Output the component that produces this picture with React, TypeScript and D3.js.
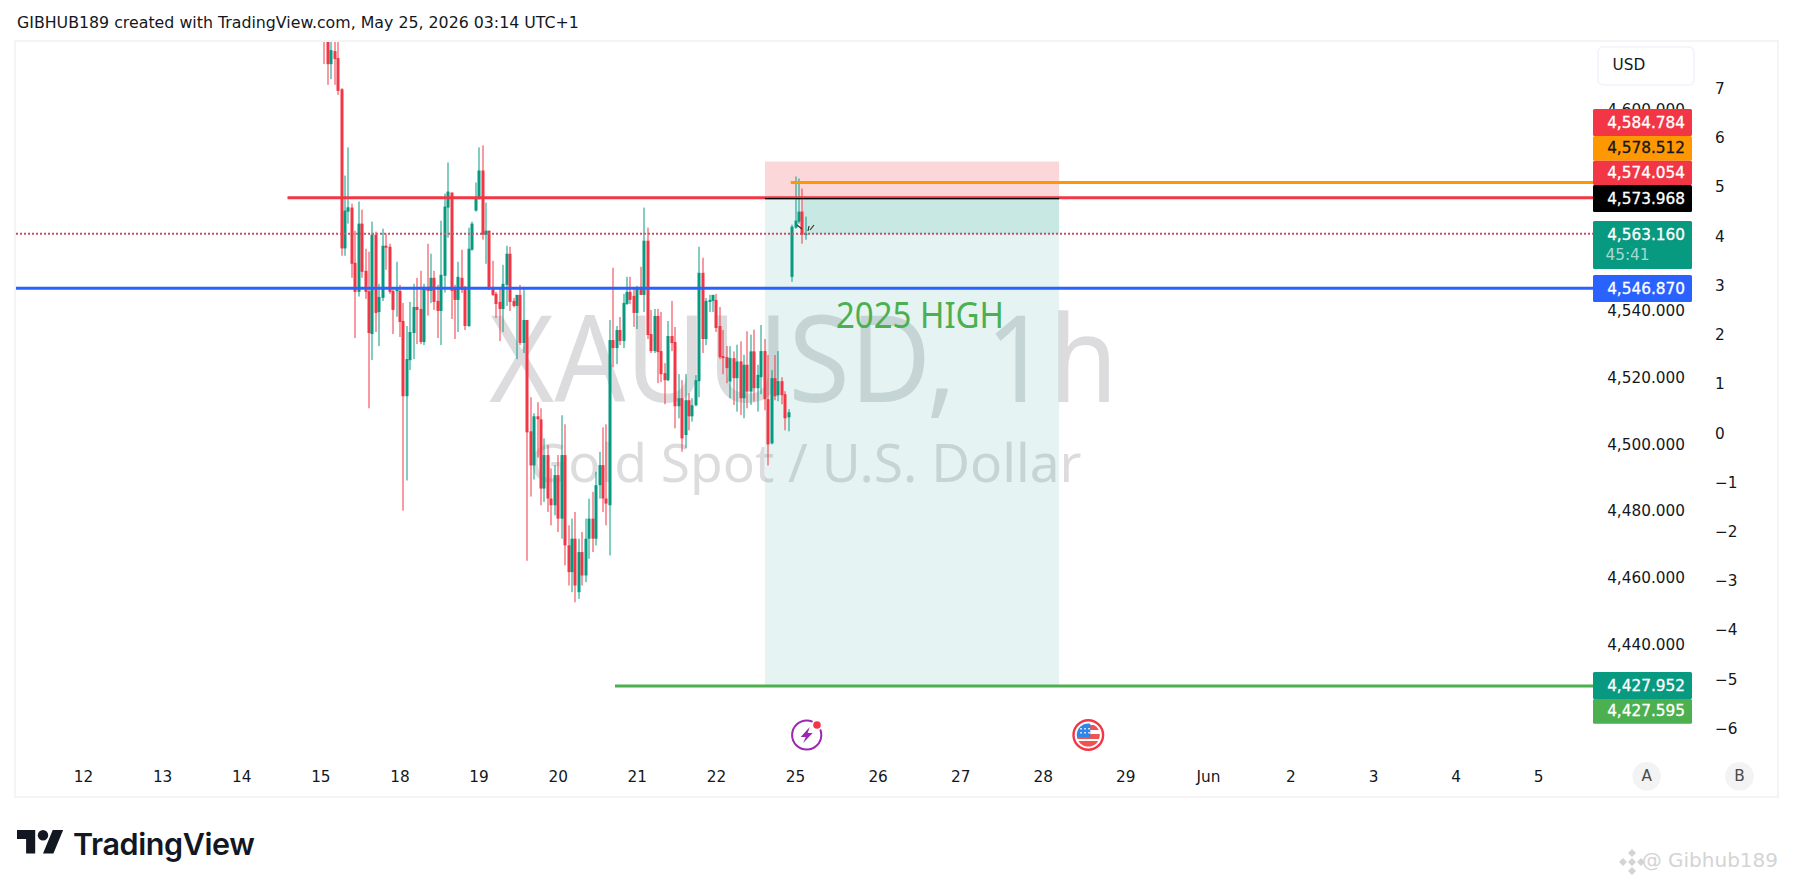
import * as d3 from "d3";

const WIDTH = 1793;
const HEIGHT = 887;
const FONT = "'DejaVu Sans', sans-serif";
const UP = "#089981";
const DOWN = "#F23645";
const INK = "#131722";

// hourly candles, bar 0 is on the 15th
const barOpen = [
  4628.4, 4623.4, 4613.9, 4617.8, 4615.7, 4606.4, 4558.8, 4569.8, 4571, 4554.5,
  4545.8, 4566.2, 4552.1, 4546, 4533.2, 4562.9, 4539.8, 4544, 4559.6, 4559.3,
  4546.1, 4546, 4546.1, 4537.1, 4514.6, 4525.4, 4533.5, 4541.3, 4540.7, 4530.8,
  4547.3, 4546.1, 4550, 4543.1, 4540.1, 4550.6, 4571, 4575.5, 4546.7, 4543.4,
  4550, 4547, 4535.6, 4558.4, 4570.1, 4573.7, 4582.1, 4562.9, 4564.1, 4547.3,
  4545.2, 4542.8, 4540.7, 4547.9, 4557.2, 4543.1, 4541.6, 4544.9, 4530.5, 4537.4,
  4504.1, 4493.9, 4508.6, 4507.7, 4487, 4497, 4484, 4482, 4491, 4478,
  4497, 4470, 4462, 4472, 4456, 4468, 4461, 4472, 4478, 4472,
  4488, 4494, 4484, 4482, 4531.4, 4529, 4534.4, 4531.1, 4542.2, 4545.8,
  4544.6, 4539.5, 4547.3, 4544.9, 4561.1, 4533.2, 4528.1, 4538.6, 4528.1, 4521.5,
  4519.4, 4532.6, 4530.8, 4511.6, 4514, 4503, 4513.4, 4508.6, 4511.9, 4519.1,
  4551.5, 4531.7, 4542.8, 4543.1, 4543.4, 4535.6, 4526.6, 4526.3, 4519, 4526,
  4520, 4525, 4514, 4524, 4516, 4528, 4517, 4520.3, 4528.1, 4513.7,
  4500.5, 4520, 4514.9, 4519.1, 4515.2, 4508.3, 4550.3, 4565, 4566.8, 4569.8,
  4562.9,
];
const barHigh = [
  4630.4, 4625, 4626, 4626, 4625, 4606.7, 4580.6, 4589, 4572.2, 4564.1,
  4572.8, 4570.4, 4558.7, 4557.8, 4566.8, 4563.8, 4548.2, 4564.7, 4563.2, 4560.2,
  4546.4, 4554.8, 4547.9, 4542.5, 4535.6, 4542.8, 4548.2, 4550, 4552.1, 4548.2,
  4560.2, 4557.2, 4552.1, 4547.9, 4567.1, 4575.2, 4584.5, 4575.5, 4547.9, 4554.8,
  4558.4, 4547.6, 4565, 4566.8, 4578.5, 4589, 4589.6, 4572.5, 4564.1, 4555.1,
  4545.8, 4546.7, 4553.9, 4559.6, 4559.3, 4544, 4544.9, 4547.9, 4547.3, 4537.4,
  4514.3, 4509.5, 4512.8, 4511, 4502, 4500, 4493, 4494, 4497, 4508.9,
  4506.2, 4476, 4478, 4480, 4472, 4474, 4478, 4484, 4486, 4492,
  4498, 4505.3, 4506.2, 4537.4, 4553, 4535.6, 4538.3, 4545.2, 4550.3, 4550.3,
  4547, 4547.6, 4553.3, 4571, 4565, 4540.4, 4540.7, 4540.7, 4539.8, 4524.5,
  4537.1, 4543.1, 4535.3, 4521.2, 4519.4, 4521.2, 4515.5, 4514, 4520.9, 4559.3,
  4556, 4544, 4544.9, 4544.9, 4545.2, 4541.3, 4534.4, 4529.6, 4529.6, 4528,
  4530, 4531, 4527, 4534, 4533, 4534.5, 4524, 4535.9, 4531.7, 4526.9,
  4522.4, 4526.9, 4528.1, 4520.3, 4516.1, 4510.7, 4565.9, 4580.3, 4579.7, 4576.7,
  4568.3,
];
const barLow = [
  4613.9, 4607.7, 4609.4, 4607.7, 4604.7, 4556.6, 4556.6, 4566.2, 4550, 4532,
  4544.4, 4550, 4543.7, 4511, 4525.4, 4533.8, 4529.6, 4543.1, 4552.4, 4545.2,
  4533.2, 4538.4, 4532.3, 4480.4, 4489.4, 4522.4, 4525.7, 4530.2, 4530.2, 4529.9,
  4538.7, 4542.5, 4540.4, 4532, 4529.9, 4545.6, 4562, 4537.7, 4531.7, 4533.8,
  4545.5, 4534.4, 4535.3, 4558.1, 4569.8, 4573.4, 4561.4, 4554.2, 4546.4, 4544.6,
  4538, 4531.1, 4533.8, 4541.6, 4540.1, 4541.2, 4525.7, 4529.9, 4527.5, 4465.4,
  4484.6, 4489.7, 4496.3, 4482, 4483, 4480, 4476, 4479, 4474, 4472,
  4464, 4458, 4456, 4453, 4454, 4458, 4459, 4466, 4468, 4470,
  4484, 4480, 4476, 4467, 4523.3, 4524.2, 4529.9, 4529, 4541.9, 4542.2,
  4535.3, 4534.7, 4544.9, 4539.8, 4531.7, 4527.5, 4527.5, 4518.5, 4518.8, 4512.2,
  4519.1, 4528.1, 4505, 4508, 4498, 4499, 4504.4, 4507, 4511.6, 4514.3,
  4527.5, 4529.9, 4539.8, 4539.8, 4533.8, 4525.7, 4521.2, 4518.5, 4514, 4512,
  4510, 4509, 4508, 4511, 4512, 4513, 4510, 4515.2, 4510.4, 4493.9,
  4500.2, 4513.4, 4513.1, 4512.2, 4504.4, 4504.1, 4548.8, 4564.7, 4566.2, 4560.2,
  4561.4,
];
const barClose = [
  4623.4, 4613.9, 4618.1, 4615.4, 4605.9, 4558.8, 4570.1, 4571.1, 4554.2, 4545.8,
  4566.2, 4551.8, 4545.8, 4533.5, 4562.9, 4539.5, 4544.3, 4559.6, 4559, 4545.8,
  4540.4, 4546.6, 4536.8, 4514.6, 4525.7, 4533.8, 4541.3, 4540.4, 4530.8, 4547.3,
  4546.1, 4550, 4542.8, 4540.1, 4550.9, 4571.3, 4575.8, 4546.1, 4543.4, 4550.3,
  4546.4, 4535.6, 4558.7, 4566.2, 4574, 4582.1, 4562.9, 4564.1, 4547, 4544.9,
  4542.2, 4540.7, 4548.2, 4557.2, 4542.8, 4541.6, 4544.9, 4530.5, 4537.4, 4503.8,
  4493.9, 4508.6, 4507.7, 4487, 4497, 4484, 4482, 4491, 4478, 4497,
  4470, 4462, 4472, 4458, 4468, 4461, 4472, 4478, 4472, 4488,
  4494, 4484, 4482.5, 4531.4, 4529, 4534.4, 4531.1, 4542.5, 4545.8, 4543.4,
  4539.5, 4547, 4544.9, 4561.1, 4532.9, 4528.1, 4538.6, 4527.8, 4521.2, 4519.4,
  4532.6, 4530.5, 4511.6, 4514, 4502, 4513.4, 4508.6, 4511.9, 4519.4, 4551.5,
  4531.7, 4543.1, 4543.4, 4544.9, 4535, 4526.3, 4526, 4523, 4526, 4520,
  4525, 4514, 4524, 4516, 4528, 4517, 4521, 4528.1, 4513.7, 4500.2,
  4520, 4514.6, 4519.1, 4514.9, 4508, 4509.8, 4565.3, 4567.1, 4569.8, 4562.9,
  4563.16,
];

const priceTicks = [4600, 4540, 4520, 4500, 4480, 4460, 4440];
const percentTicks = [7, 6, 5, 4, 3, 2, 1, 0, -1, -2, -3, -4, -5, -6];
const dayLabels = ["12", "13", "14", "15", "18", "19", "20", "21", "22", "25", "26", "27", "28", "29", "Jun", "2", "3", "4", "5"];
const dayBars = [-70, -47, -24, -1, 22, 45, 68, 91, 114, 137, 161, 185, 209, 233, 257, 281, 305, 329, 353];

const LAST_PRICE = 4563.16;
const RESISTANCE = 4573.968;
const ORANGE_LEVEL = 4578.512;
const BLUE_LEVEL = 4546.87;
const TARGET = 4427.952;
const STOP = 4584.784;

const priceLabels = ["4,584.784", "4,578.512", "4,574.054", "4,573.968", "4,563.160", "4,546.870", "4,427.952", "4,427.595"];
const labelFills = [DOWN, "#FF9800", DOWN, "#000000", UP, "#2962FF", UP, "#4CAF50"];
const labelInk = ["#fff", "#131722", "#fff", "#fff", "#fff", "#fff", "#fff", "#fff"];
const labelTops = [109, 136, 160.7, 185, 221, 275, 672, 699];
const labelBottoms = [136, 160.7, 185, 212, 269, 302, 699, 723.7];

const x = d3.scaleLinear().domain([0, 100]).range([324.3, 668.3]);
const y = d3.scaleLinear().domain([4427.952, 4546.87]).range([686, 288.3]);
const yPercent = d3.scaleLinear().domain([0, 7]).range([433.5, 89]);

const PLOT_RIGHT = 1593;
const bars = d3.range(barOpen.length);

const labelProps = { fontFamily: FONT, fontSize: 15.3, fill: INK, dominantBaseline: "central" as const };

const Candles = () => (
  <g clipPath="url(#plot)">
    {bars.map(i => {
      const up = barClose[i] >= barOpen[i];
      const color = up ? UP : DOWN;
      const top = y(Math.max(barOpen[i], barClose[i]));
      const bottom = y(Math.min(barOpen[i], barClose[i]));
      const cx = Math.round(x(i));
      return (
        <g key={i} fill={color}>
          <rect x={cx - 0.5} y={y(barHigh[i])} width={1} height={y(barLow[i]) - y(barHigh[i])} />
          <rect x={cx - 1.5} y={top} width={3} height={Math.max(bottom - top, 1)} />
        </g>
      );
    })}
  </g>
);

const PositionTool = () => {
  const left = x(128.1);
  const right = x(213.6);
  const entry = y(RESISTANCE);
  const current = y(LAST_PRICE);
  return (
    <g>
      <rect x={left} y={y(STOP)} width={right - left} height={entry - y(STOP)} fill={DOWN} fillOpacity={0.2} />
      <rect x={left} y={entry} width={right - left} height={y(TARGET) - entry} fill={UP} fillOpacity={0.105} />
      <rect x={x(139.1)} y={entry} width={right - x(139.1)} height={current - entry} fill={UP} fillOpacity={0.13} />
    </g>
  );
};

const Levels = () => (
  <g>
    <line x1={x(-10.7)} x2={PLOT_RIGHT} y1={y(RESISTANCE)} y2={y(RESISTANCE)} stroke={DOWN} strokeWidth={3} />
    <line x1={x(128.1)} x2={x(213.6)} y1={y(RESISTANCE) + 1} y2={y(RESISTANCE) + 1} stroke="#000" strokeWidth={1.2} />
    <line x1={x(135.6)} x2={PLOT_RIGHT} y1={y(ORANGE_LEVEL)} y2={y(ORANGE_LEVEL)} stroke="#FF9800" strokeWidth={3} />
    <line x1={16} x2={PLOT_RIGHT} y1={y(BLUE_LEVEL)} y2={y(BLUE_LEVEL)} stroke="#2962FF" strokeWidth={3} />
    <line x1={x(84.5)} x2={PLOT_RIGHT} y1={y(TARGET)} y2={y(TARGET)} stroke="#4CAF50" strokeWidth={3} />
    <line x1={16} x2={PLOT_RIGHT} y1={y(LAST_PRICE)} y2={y(LAST_PRICE)} stroke="#c2556a" strokeWidth={2} strokeDasharray="1 3" />
    <line x1={17} x2={PLOT_RIGHT} y1={y(LAST_PRICE)} y2={y(LAST_PRICE)} stroke="#3f78d8" strokeWidth={2} strokeDasharray="1 3" />
  </g>
);

const RightScale = () => (
  <g>
    <rect x={1598} y={47} width={96} height={38} rx={5} fill="#fff" stroke="#f0f3fa" strokeWidth={1.5} />
    <text {...labelProps} x={1612.5} y={65}>USD</text>
    {priceTicks.map(p => (
      <text key={p} {...labelProps} x={1685} y={y(p) - 0.5} textAnchor="end">{d3.format(",.3f")(p)}</text>
    ))}
    {percentTicks.map(v => (
      <text key={v} {...labelProps} x={1715} y={yPercent(v)}>{v < 0 ? `\u2212${-v}` : v}</text>
    ))}
    {priceLabels.map((t, i) => {
      const top = labelTops[i];
      const h = labelBottoms[i] - top;
      return (
        <g key={t}>
          <rect x={1593} y={top} width={99} height={h} fill={labelFills[i]} rx={1.5} />
          <text {...labelProps} x={1685} y={i === 4 ? top + 14 : top + h / 2} textAnchor="end" fill={labelInk[i]} stroke={labelInk[i]} strokeWidth={0.3}>{t}</text>
        </g>
      );
    })}
    <text {...labelProps} x={1605.5} y={254.5} fill="#fff" fillOpacity={0.65}>45:41</text>
  </g>
);

const TimeAxis = () => (
  <g>
    {dayLabels.map((d, i) => (
      <text key={d + i} {...labelProps} x={x(dayBars[i])} y={776.5} textAnchor="middle">{d}</text>
    ))}
    {["A", "B"].map((t, i) => (
      <g key={t}>
        <circle cx={i === 0 ? 1646.7 : 1739.5} cy={776.3} r={14.3} fill="#f3f3f3" />
        <text {...labelProps} x={i === 0 ? 1646.7 : 1739.5} y={776.3} textAnchor="middle" fill="#4a4a4a">{t}</text>
      </g>
    ))}
  </g>
);

const EventIcons = () => (
  <g>
    <g transform="translate(806.7 735)">
      <circle r={14.6} fill="none" stroke="#9C27B0" strokeWidth={2} />
      <path d="M3 -8 L-6 2 L-1 2 L-3.5 8 L6 -2 L1 -2 Z" fill="#9C27B0" />
      <circle cx={10.3} cy={-10} r={5.5} fill="#fff" />
      <circle cx={10.3} cy={-10} r={3.8} fill={DOWN} />
    </g>
    <g transform="translate(1088.3 735)">
      <circle r={14.8} fill="#fff" stroke={DOWN} strokeWidth={2.4} />
      <clipPath id="flag"><circle r={11.5} /></clipPath>
      <g clipPath="url(#flag)">
        <rect x={-12} y={-1} width={24} height={5} fill="#EF5350" />
        <rect x={-12} y={6} width={24} height={6} fill="#EF5350" />
        <rect x={0} y={-10} width={12} height={5} fill="#EF5350" />
        <rect x={-12} y={-12} width={14} height={14} fill="#2E86E8" />
      </g>
      <path d="M-8 -7h1.5v1.5h-1.5zM-4 -7h1.5v1.5h-1.5zM-8 -3h1.5v1.5h-1.5zM-4 -3h1.5v1.5h-1.5zM0 -7h1.5v1.5h-1.5zM0 -3h1.5v1.5h-1.5z" fill="#fff" />
    </g>
  </g>
);

const App = () => (
  <svg width={WIDTH} height={HEIGHT} style={{ position: "absolute", left: 0, top: 0, background: "#fff" }}>
    <defs>
      <clipPath id="plot"><rect x={16} y={42} width={PLOT_RIGHT - 16} height={754} /></clipPath>
    </defs>
    <text x={17} y={22} fontFamily={FONT} fontSize={15.8} fill={INK} dominantBaseline="central">
      GIBHUB189 created with TradingView.com, May 25, 2026 03:14 UTC+1
    </text>
    <rect x={15} y={41} width={1763} height={756} fill="none" stroke="#f4f4f4" strokeWidth={2} />

    <text x={803.5} y={401.7} textAnchor="middle" fontFamily="'Noto Sans', sans-serif" fontSize={120} fill={INK} fillOpacity={0.15} textLength={629} lengthAdjust="spacingAndGlyphs">XAUUSD, 1h</text>
    <text x={805.6} y={482} textAnchor="middle" fontFamily="'Noto Sans', sans-serif" fontSize={53} fill={INK} fillOpacity={0.15} textLength={552} lengthAdjust="spacingAndGlyphs">Gold Spot / U.S. Dollar</text>

    <PositionTool />
    <Candles />
    <Levels />
    <path d="M797 225 l5 4 M814 225 l-4 5 M809 226 l-1 5" stroke="#333" strokeWidth={1.2} fill="none" />
    <text x={920} y={327.7} textAnchor="middle" fontFamily="'Noto Sans', sans-serif" fontSize={36} fill="#4CAF50" textLength={168} lengthAdjust="spacingAndGlyphs">2025 HIGH</text>

    <EventIcons />
    <RightScale />
    <TimeAxis />

    <g transform="translate(17 830) scale(1.3)" fill={INK}>
      <path d="M14 18H7V7H0V0h14v18zM28 18h-8l7.5-18h8L28 18z" />
      <circle cx={20} cy={4} r={4} />
    </g>
    <text x={73} y={843} fontFamily="Inter, sans-serif" fontWeight={600} fontSize={30.5} fill={INK} dominantBaseline="central" letterSpacing={-0.4}>TradingView</text>

    <g fill="#d4d4d4" fontFamily={FONT} fontSize={20}>
      <path d="M1632 849l4 4-4 4-4-4zM1623 858l4 4-4 4-4-4zM1641 858l4 4-4 4-4-4zM1632 858l4 4-4 4-4-4zM1632 867l4 4-4 4-4-4z" />
      <text x={1778} y={860} dominantBaseline="central" textAnchor="end">@ Gibhub189</text>
    </g>
  </svg>
);

export default App;
